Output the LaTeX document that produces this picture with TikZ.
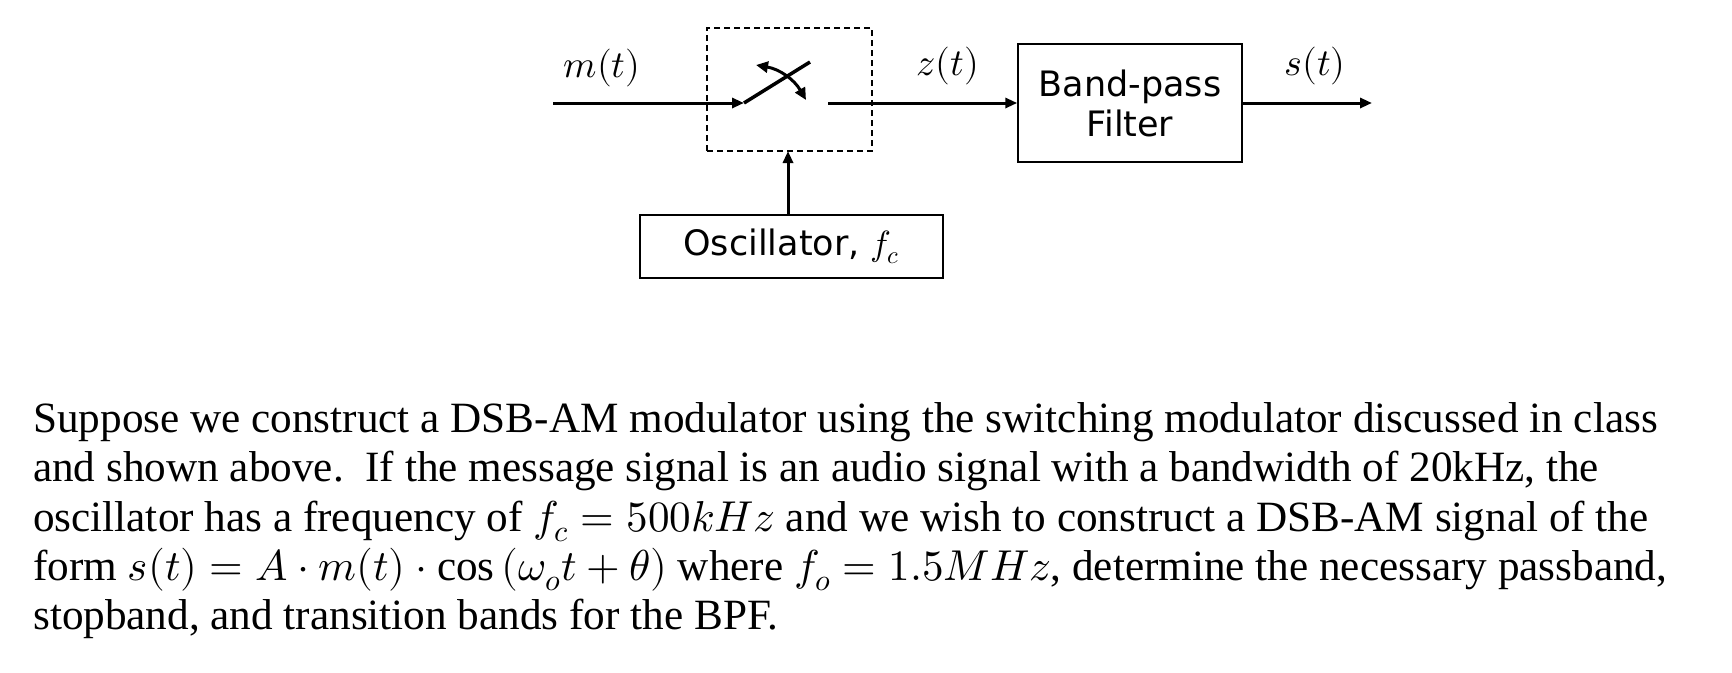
\documentclass[tikz,border=0pt]{standalone}
\usepackage{fontspec}
\usepackage{unicode-math}
\setmainfont{Liberation Serif}
\setmathfont{Latin Modern Math}
\newfontfamily\labfont{DejaVu Sans}
\usetikzlibrary{arrows.meta}
\begin{document}
\begin{tikzpicture}[x=1pt,y=-1pt,
  sig/.style={line width=3pt,-{Triangle[length=12pt,width=10pt]}},
  blk/.style={draw,line width=1.5pt},
  lbl/.style={font=\fontsize{38}{44}\selectfont},
  para/.style={font=\fontsize{43.2}{49}\selectfont,anchor=base west,inner sep=0}]
\useasboundingbox (0,0) rectangle (1732,672);
\node[draw,dash pattern=on 6pt off 4pt,line width=1.2pt,minimum width=165pt,minimum height=123pt] (sw) at (789.5,89.5) {};
\node[blk,minimum width=224pt,minimum height=118pt,align=center,font=\labfont\fontsize{35}{40}\selectfont] (bpf) at (1130,103) {Band-pass\\Filter};
\node[blk,minimum width=303pt,minimum height=63pt,font=\labfont\fontsize{35}{40}\selectfont] (osc) at (791.5,246.5) {Oscillator, $f_c$};
\coordinate (in) at (553,103);
\coordinate (a) at (744,103);
\coordinate (b) at (810,62);
\coordinate (c) at (828,103);
\coordinate (out) at (1372,103);
\draw[sig] (in) -- (a);
\draw[line width=3.5pt] (a) -- (b);
\draw[line width=3pt,{Triangle[length=12pt,width=11pt]}-{Triangle[length=12pt,width=11pt]}] (756,65) to[bend left=25] (806,100);
\draw[sig] (c) -- (bpf.west);
\draw[sig] (bpf.east) -- (out);
\draw[sig] (osc.north -| 788,0) -- (788,151);
\node[lbl] (m) at (602,68) {$m(t)$};
\node[lbl] (z) at (948,66) {$z(t)$};
\node[lbl] (s) at (1315,66) {$s(t)$};
\node[para] (p1) at (33,432) {Suppose we construct a DSB-AM modulator using the switching modulator discussed in class};
\node[para] (p2) at (33,481) {and shown above.\ \ If the message signal is an audio signal with a bandwidth of 20kHz, the};
\node[para] (p3) at (33,531) {oscillator has a frequency of $f_c=500kHz$ and we wish to construct a DSB-AM signal of the};
\node[para] (p4) at (33,580) {form $s(t)=A\cdot m(t)\cdot\cos{(\omega_o t+\theta)}$ where $f_o=1.5MHz$, determine the necessary passband,};
\node[para] (p5) at (33,629) {stopband, and transition bands for the BPF.};
\end{tikzpicture}
\end{document}
